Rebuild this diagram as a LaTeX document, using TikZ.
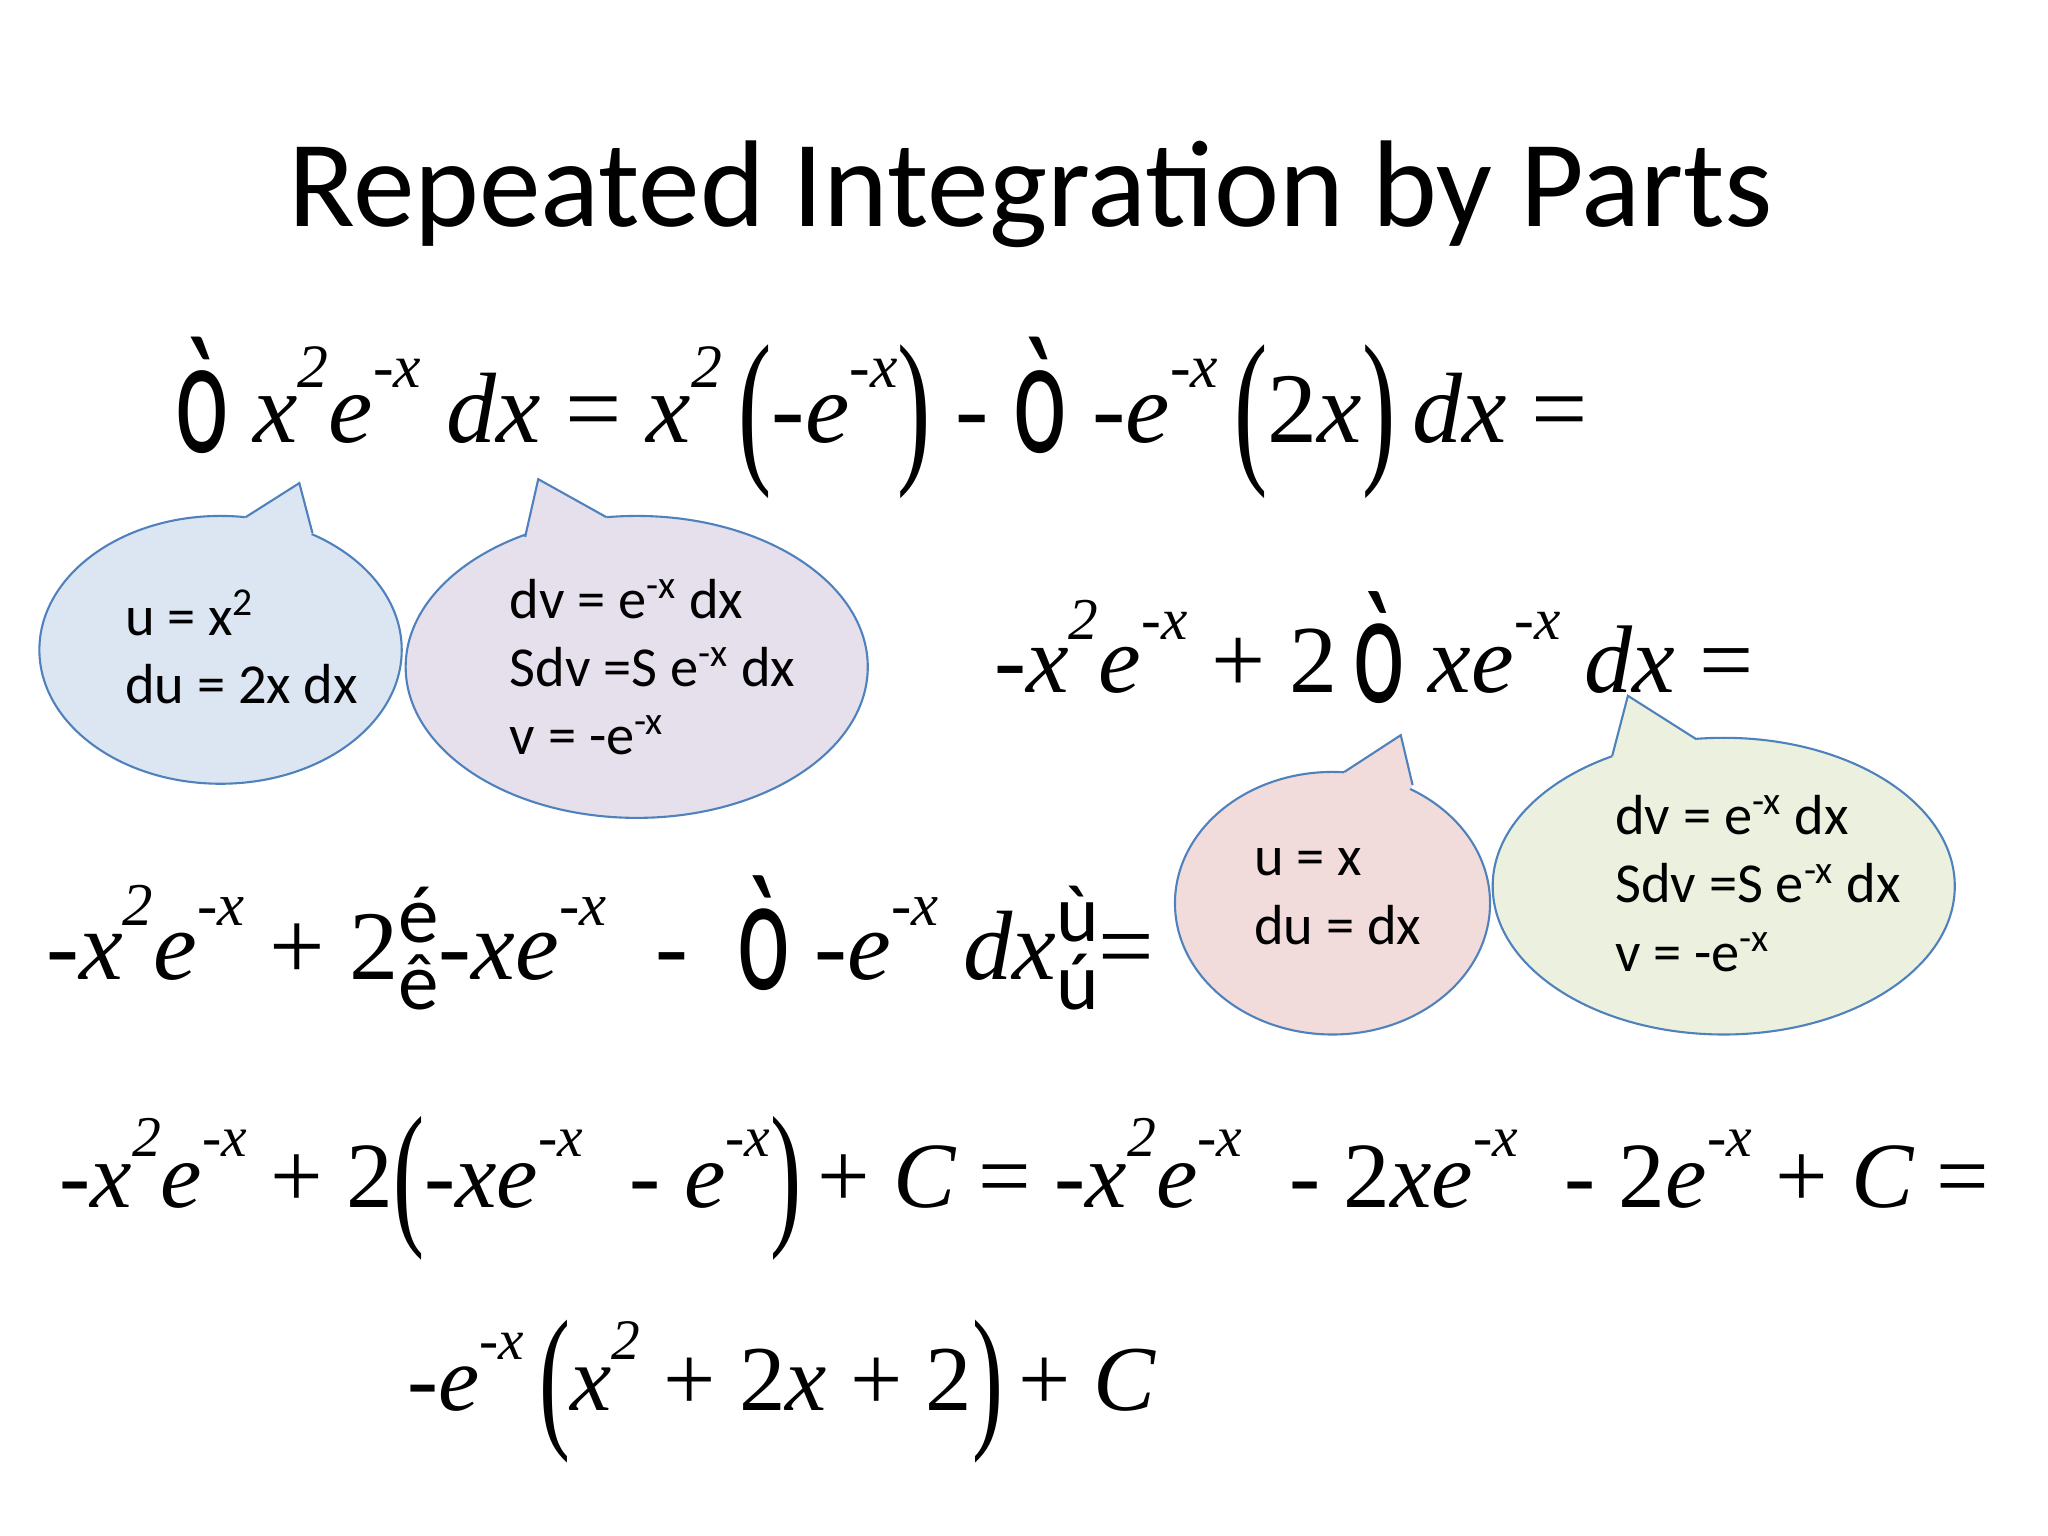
\documentclass[tikz,border=0pt]{standalone}
\usepackage{fontspec}
\setmainfont{Liberation Serif}
\newfontfamily\calf{Carlito}
\usepackage{graphicx}
\usetikzlibrary{calc}
\newcommand{\Sp}[1]{\raisebox{0.55em}{\fontsize{21}{21}\selectfont\itshape #1}}
\newcommand{\Int}{\raisebox{-0.1em}{\scalebox{0.75}[1.25]{\calf\upshape\fontsize{46}{46}\selectfont ò}}}
\newcommand{\LP}{\raisebox{-0.2em}{\scalebox{1}[1.7]{\upshape(}}}
\newcommand{\RP}{\raisebox{-0.2em}{\scalebox{1}[1.7]{\upshape)}}}
\newcommand{\mi}{{\upshape -}}
\newcommand{\U}[1]{{\upshape #1}}
\newcommand{\stk}[2]{\raisebox{-0.3em}{\calf\upshape\fontsize{28}{15}\selectfont\shortstack{#1\\[1pt]#2}}}
\newcommand{\bs}[1]{\textsuperscript{#1}}
\newcommand{\RB}[2]{\resizebox{#1}{!}{#2}}
\tikzset{
 mth/.style={anchor=west,inner sep=0pt,font=\fontsize{34}{34}\selectfont\itshape},
 btx/.style={anchor=west,align=left,inner sep=0pt,font=\calf\fontsize{21.5}{26}\selectfont},
}
\definecolor{bb}{HTML}{4F81BD}
\definecolor{c1}{HTML}{DCE6F2}
\definecolor{c2}{HTML}{E6E0EC}
\definecolor{c3}{HTML}{F2DCDB}
\definecolor{c4}{HTML}{EBF1DE}
\def\drawbubble#1#2#3#4#5#6#7#8{%
 \filldraw[fill=#5,draw=bb,line width=0.8pt] (#1,#2) ellipse [x radius=#3,y radius=#4];
 \fill[#5] #6 -- #7 -- ($#7!0.5!(#1,#2)$) -- ($#8!0.5!(#1,#2)$) -- #8 -- cycle;
 \draw[bb,line width=0.8pt] #7 -- #6 -- #8;
}
\begin{document}
\begin{tikzpicture}[x=0.5pt,y=-0.5pt]
\useasboundingbox[fill=white] (0,0) rectangle (1560,1170);
\node[inner sep=0pt,font=\calf\fontsize{47}{47}\selectfont] (title) at (785,148) {Repeated Integration by Parts};
\drawbubble{168}{495}{138}{102}{c1}{(228,368)}{(187,394)}{(238,406)}
\drawbubble{485}{508}{176}{115}{c2}{(410,365)}{(400,409)}{(462,394)}
\drawbubble{1015}{688}{120}{100}{c3}{(1067,560)}{(1024,588)}{(1076,598)}
\drawbubble{1313}{675}{176}{113}{c4}{(1240,530)}{(1228,576)}{(1292,563)}
\node[btx] (b1) at (95,493) {u = x\bs{2}\\du = 2x dx};
\node[btx] (b2) at (388,508) {dv = e\bs{-x} dx\\Sdv =S e\bs{-x} dx\\v = -e\bs{-x}};
\node[btx] (b3) at (955,683) {u = x\\du = dx};
\node[btx] (b4) at (1230,673) {dv = e\bs{-x} dx\\Sdv =S e\bs{-x} dx\\v = -e\bs{-x}};
\node[mth] (l1) at (133,318) {\RB{538pt}{\Int\ x\Sp{2}e\Sp{-x} dx \U{=} x\Sp{2}\,\LP\mi e\Sp{-x}\RP\ \mi\ \Int\ \mi e\Sp{-x}\,\LP\U{2}x\RP\,dx \U{=}}};
\node[mth] (l2) at (757,493) {\RB{289pt}{\mi x\Sp{2}e\Sp{-x} \U{+} \U{2}\,\Int\ xe\Sp{-x} dx \U{=}}};
\node[mth] (l3) at (35,718) {\RB{422pt}{\mi x\Sp{2}e\Sp{-x} \U{+} \U{2}\stk{é}{ê}\mi xe\Sp{-x} \ \mi\ \ \Int\ \mi e\Sp{-x} dx\stk{ù}{ú}\U{=}}};
\node[mth] (l4) at (45,905) {\RB{735pt}{\mi x\Sp{2}e\Sp{-x} \U{+} \U{2}\LP\mi xe\Sp{-x} \ \mi\ e\Sp{-x}\RP\,\U{+} C \U{=} \mi x\Sp{2}e\Sp{-x} \ \mi\ \U{2}xe\Sp{-x} \ \mi\ \U{2}e\Sp{-x} \U{+} C \U{=}}};
\node[mth] (l5) at (310,1060) {\RB{285pt}{\mi e\Sp{-x}\,\LP x\Sp{2} \U{+} \U{2}x \U{+} \U{2}\RP\,\U{+} C}};
\end{tikzpicture}
\end{document}
